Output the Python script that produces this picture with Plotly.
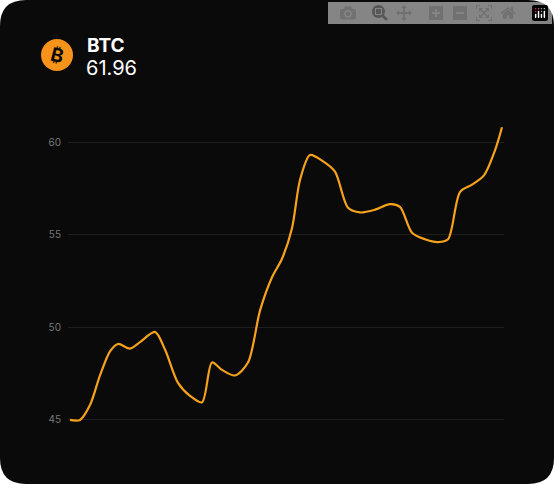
import plotly.graph_objects as go

t = [70,80,90,100,110,118,130,140,155,165,178,190,202,212,222,235,248,260,272,282,292,300,310,322,335,348,360,375,390,400,412,425,438,448,460,472,484,495,502]
price = [45.0,45.0,45.8,47.4,48.7,49.1,48.85,49.2,49.75,48.8,47.0,46.3,45.95,48.1,47.7,47.4,48.1,50.9,52.7,53.7,55.35,57.95,59.3,59.0,58.4,56.45,56.2,56.35,56.65,56.5,55.1,54.75,54.6,54.75,57.3,57.7,58.2,59.55,60.8]
yticks = [45, 50, 55, 60]

W, H, r = 554, 484, 26
def P(x, y): return f"{x} {-y}"
card = (f"M {P(r,0)} L {P(W-r,0)} Q {P(W,0)} {P(W,r)} L {P(W,H-r)} Q {P(W,H)} {P(W-r,H)} "
        f"L {P(r,H)} Q {P(0,H)} {P(0,H-r)} L {P(0,r)} Q {P(0,0)} {P(r,0)} Z")
xa = -68/436
ya = 1 + 100/344

fig = go.Figure(go.Scatter(x=t, y=price, mode="lines",
                           line=dict(color="#f7a21b", width=2.2, shape="spline", smoothing=0.8),
                           hoverinfo="skip"))
fig.update_layout(
    width=554, height=484, paper_bgcolor="white", plot_bgcolor="rgba(0,0,0,0)",
    margin=dict(l=68, r=50, t=100, b=40), showlegend=False,
    font=dict(family="Inter, sans-serif"),
    xaxis=dict(range=[68, 504], visible=False),
    yaxis=dict(range=[43.70, 62.27], tickvals=yticks, showgrid=True, gridcolor="#1e1e1e",
               zeroline=False, tickfont=dict(size=10, color="#777"), ticks="", ticklabelstandoff=6),
    shapes=[
        dict(type="path", path=card, xref="paper", yref="paper", fillcolor="#0a0a0a", line_width=0, layer="below",
             xsizemode="pixel", ysizemode="pixel", xanchor=xa, yanchor=ya),
        dict(type="circle", xref="paper", yref="paper", xsizemode="pixel", ysizemode="pixel",
             xanchor=xa, yanchor=ya, x0=41, x1=73, y0=-39, y1=-71, fillcolor="#f7931a", line_width=0),
    ],
    annotations=[
        dict(text="<b>₿</b>", x=0, y=1, xref="paper", yref="paper", xshift=57-68, yshift=100-55,
             showarrow=False, font=dict(size=19, color="#0a0a0a"), textangle=14, xanchor="center", yanchor="middle"),
        dict(text="<b>BTC</b>", xref="paper", yref="paper", x=0, y=1, xshift=85-68, yshift=100-45, showarrow=False,
             xanchor="left", yanchor="middle", font=dict(size=19, color="white", family="Inter")),
        dict(text="61.96", xref="paper", yref="paper", x=0, y=1, xshift=84-68, yshift=100-68, showarrow=False,
             xanchor="left", yanchor="middle", font=dict(size=20, color="white", family="Inter")),
    ],
)
fig.write_html("out.html", post_script="document.body.style.margin='0';document.body.style.padding='0';")
